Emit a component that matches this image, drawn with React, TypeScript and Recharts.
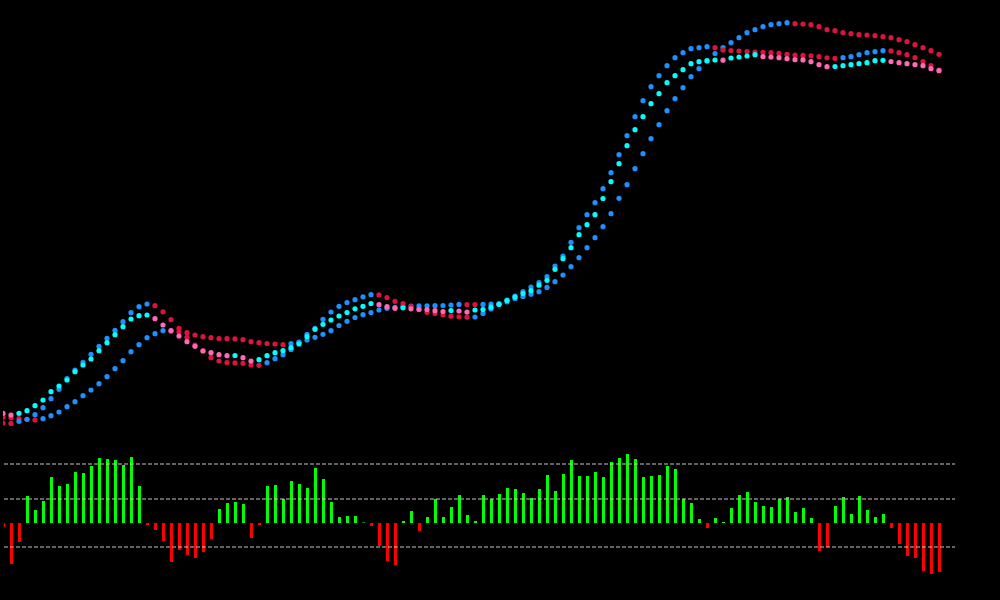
import React from 'react';
import { ComposedChart, Scatter, XAxis, YAxis, Bar, Cell, ReferenceLine } from 'recharts';

// Fast line (blue when rising, crimson when falling)
const fastLine = [
  17.0, 16.6, 18.7, 20.7, 25.3, 32.3, 41.3, 50.7, 61.5, 70.0,
  77.7, 85.7, 93.7, 101.7, 109.7, 118.3, 127.3, 133.3, 136.0, 134.3,
  128.2, 120.3, 111.7, 102.7, 95.0, 89.5, 82.3, 79.0, 77.5, 77.1,
  76.7, 75.0, 74.7, 77.3, 81.3, 85.3, 90.5, 97.5, 105.7, 111.7,
  120.7, 128.0, 133.7, 137.5, 140.3, 143.2, 145.3, 145.1, 142.5, 138.7,
  136.5, 133.5, 130.5, 127.7, 126.5, 125.0, 123.8, 123.2, 122.8, 123.0,
  126.5, 131.0, 135.5, 140.0, 144.0, 148.5, 153.0, 157.5, 163.3, 174.0,
  184.0, 197.7, 212.3, 225.3, 237.3, 251.3, 267.3, 285.3, 304.3, 323.3,
  339.3, 353.3, 364.3, 374.3, 382.3, 387.3, 391.3, 392.3, 393.3, 392.3,
  390.0, 389.5, 389.0, 388.5, 388.0, 387.7, 387.4, 386.7, 385.7, 385.0,
  384.6, 384.2, 383.3, 382.2, 381.6, 382.3, 383.3, 385.3, 387.3, 388.3,
  389.3, 389.1, 387.3, 385.3, 382.3, 378.3, 374.3, 370.0,
];

// Middle line (aqua when rising, pink when falling)
const midLine = [
  26.7, 25.0, 26.7, 29.3, 34.3, 40.0, 48.3, 54.0, 60.0, 68.3,
  75.0, 81.0, 89.3, 97.3, 105.3, 113.3, 121.0, 124.3, 125.0, 121.3,
  115.0, 109.3, 104.0, 98.3, 93.7, 89.0, 87.3, 85.3, 84.3, 84.5,
  82.3, 79.0, 80.3, 84.3, 87.3, 89.3, 92.3, 96.0, 103.3, 110.7,
  115.7, 120.0, 124.0, 127.5, 131.2, 133.7, 136.5, 135.3, 133.3, 131.7,
  132.2, 131.2, 130.7, 130.5, 129.3, 128.5, 129.5, 129.0, 128.0, 130.0,
  130.5, 132.8, 135.7, 139.5, 142.9, 146.5, 149.3, 154.8, 159.7, 170.7,
  181.3, 192.3, 205.3, 215.3, 225.3, 241.5, 258.3, 276.3, 294.3, 310.3,
  323.3, 336.3, 346.3, 357.3, 364.3, 370.3, 376.3, 378.3, 379.3, 380.0,
  379.8, 382.0, 383.0, 384.0, 385.3, 383.3, 383.0, 382.3, 381.3, 380.3,
  380.1, 378.3, 375.3, 373.3, 373.5, 374.3, 375.3, 376.3, 377.3, 379.3,
  379.7, 378.5, 377.3, 376.3, 375.3, 374.3, 371.3, 369.3,
];

// Slow line (blue when rising, crimson when falling)
const slowLine = [
  22.8, 22.3, 21.5, 20.7, 20.0, 21.3, 24.3, 28.0, 33.3, 38.3,
  44.3, 50.0, 56.3, 63.3, 71.3, 79.3, 88.3, 95.3, 102.3, 106.3,
  109.3, 109.1, 108.3, 107.3, 105.0, 103.3, 102.3, 101.5, 101.3, 101.1,
  100.3, 98.3, 97.3, 96.5, 96.0, 95.3, 96.3, 98.0, 100.0, 102.7,
  105.7, 109.3, 114.5, 118.7, 122.5, 125.3, 127.5, 130.0, 131.7, 132.7,
  133.5, 134.0, 134.1, 134.2, 134.3, 134.5, 135.0, 135.6, 135.5, 135.4,
  135.6, 135.8, 136.4, 138.2, 141.5, 143.5, 145.8, 148.3, 152.6, 158.3,
  165.0, 173.3, 182.3, 192.3, 202.3, 213.3, 226.3, 241.7, 255.3, 271.3,
  286.3, 301.3, 315.3, 329.3, 341.3, 352.3, 363.3, 371.3, 379.0, 386.5,
  392.5, 397.3, 402.3, 407.3, 410.3, 413.3, 415.3, 416.3, 417.3, 416.3,
  416.0, 415.3, 413.3, 410.3, 409.3, 407.3, 406.3, 405.3, 405.0, 404.3,
  403.3, 402.3, 400.3, 398.3, 395.3, 392.3, 389.3, 385.7,
];

// Histogram
const histogram = [
  -4, -41, -19, 27, 13, 22, 46, 37, 39, 51,
  50, 57, 65, 64, 63, 58, 66, 37, -2, -7,
  -18, -39, -27, -32, -35, -29, -16, 14, 20, 21,
  19, -15, -2, 37, 38, 24, 42, 39, 35, 55,
  44, 21, 6, 7, 7, 0.5, -3, -23, -38, -42,
  2, 12, -8, 6, 24, 6, 16, 28, 8, 2,
  28, 24, 29, 35, 34, 30, 25, 34, 48, 32,
  49, 63, 47, 47, 51, 46, 61, 65, 69, 64,
  46, 47, 48, 57, 54, 24, 20, 4, -5, 5,
  1, 15, 28, 31, 21, 17, 16, 24, 26, 11,
  15, 5, -28, -24, 17, 26, 9, 27, 13, 6,
  9, -5, -21, -33, -35, -48, -51, -49,
];

const levels = [59, 24, -24];

const BLUE = '#1E90FF';
const CRIMSON = '#DC143C';
const AQUA = '#00FFFF';
const PINK = '#FF69B4';
const LIME = '#00FF00';
const RED = '#FF0000';
const LEVEL = '#C8C8C8';

function toPoints(values: number[], up: string, down: string) {
  return values.map((v, i) => ({
    i,
    v,
    color: i > 0 && v > values[i - 1] ? up : down,
  }));
}

const slowPts = toPoints(slowLine, BLUE, CRIMSON);
const fastPts = toPoints(fastLine, BLUE, CRIMSON);
const midPts = toPoints(midLine, AQUA, PINK);

const histRows = histogram.map((h, i) => ({ i, h }));

const DotShape = (props: any) => {
  const color = (props.payload && props.payload.color) || props.color || props.fill;
  if (props.cx == null || props.cy == null) return null;
  return <circle cx={props.cx} cy={props.cy} r={2.6} fill={color} />;
};

export default function App() {
  return (
    <div style={{ position: 'absolute', left: 0, top: 0, width: 1000, height: 600, background: '#000', overflow: 'hidden' }}>
      <div style={{ position: 'absolute', left: 0, top: 0 }}>
        <ComposedChart width={1000} height={600} margin={{ top: 0, right: 45, bottom: 160, left: 3 }}>
          <XAxis type="number" dataKey="i" domain={[0, 119]} allowDataOverflow hide />
          <YAxis type="number" dataKey="v" domain={[0, 440]} allowDataOverflow hide />
          <Scatter data={slowPts} shape={DotShape} isAnimationActive={false} />
          <Scatter data={fastPts} shape={DotShape} isAnimationActive={false} />
          <Scatter data={midPts} shape={DotShape} isAnimationActive={false} />
        </ComposedChart>
      </div>
      <div style={{ position: 'absolute', left: 0, top: 0 }}>
        <ComposedChart width={1000} height={600} data={histRows} margin={{ top: 448, right: 45, bottom: 17, left: 4 }}>
          <XAxis type="number" dataKey="i" domain={[0, 118.875]} allowDataOverflow hide />
          <YAxis type="number" domain={[-60, 75]} allowDataOverflow hide />
          {levels.map((lv) => (
            <ReferenceLine key={lv} y={lv} stroke={LEVEL} strokeWidth={1} strokeDasharray="4 2" />
          ))}
          <Bar dataKey="h" barSize={3} isAnimationActive={false}>
            {histRows.map((r) => (
              <Cell key={r.i} fill={r.h >= 0 ? LIME : RED} />
            ))}
          </Bar>
        </ComposedChart>
      </div>
    </div>
  );
}
